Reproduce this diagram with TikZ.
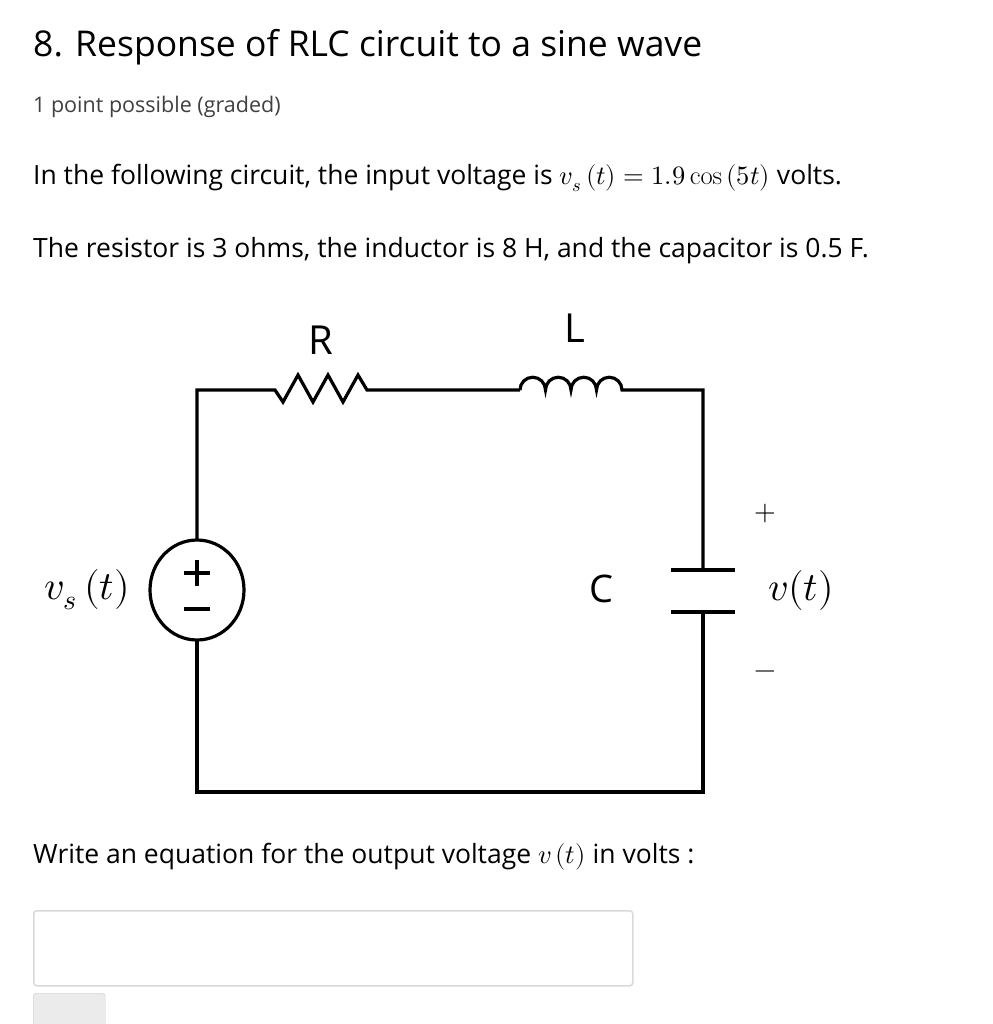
\documentclass[tikz,border=0pt]{standalone}
\usepackage{fontspec}
\setmainfont{Open Sans}
\usepackage{unicode-math}
\setmathfont{Latin Modern Math}
\setmathrm{Latin Modern Roman}
\usetikzlibrary{shapes.geometric}
\begin{document}
\begin{tikzpicture}[x=1pt,y=-1pt,
  wire/.style={line width=3.2pt,line join=miter},
  txt/.style={anchor=base west,inner sep=0pt,font=\fontsize{26.5}{30}\selectfont},
  lab/.style={inner sep=0pt,font=\fontsize{40}{44}\selectfont}]
\useasboundingbox[fill=white] (0,0) rectangle (992,1024);
\node[txt,anchor=base west,font=\fontsize{35.5}{40}\selectfont] (title) at (33,57) {8. Response of RLC circuit to a sine wave};
\node[txt,text=black!75,font=\fontsize{21.5}{24}\selectfont] (pts) at (33,113) {1 point possible (graded)};
\node[txt] (q1) at (33,185) {In the following circuit, the input voltage is $v_s\,(t) = 1.9\,\mathrm{cos}\,(5t)$ volts.};
\node[txt] (q2) at (33,258) {The resistor is 3 ohms, the inductor is 8 H, and the capacitor is 0.5 F.};
% circuit
\coordinate (tl) at (197,390); \coordinate (tr) at (703,390);
\coordinate (bl) at (197,792); \coordinate (br) at (703,792);
\coordinate (r1) at (275,390); \coordinate (r2) at (367,390);
\coordinate (l1) at (520,390); \coordinate (l2) at (622,390);
\draw[wire] (197,540) -- (tl) -- (r1) -- (283,402) -- (298,375) -- (313,402) -- (328,375) -- (343,402) -- (358,375) -- (r2) -- (l1);
\draw[wire] (l1) arc[start angle=180,end angle=360,radius=12.75]
  arc[start angle=180,end angle=360,radius=12.75]
  arc[start angle=180,end angle=360,radius=12.75]
  arc[start angle=180,end angle=360,radius=12.75] -- (tr) -- (703,570);
\draw[wire] (703,612) -- (br) -- (bl) -- (197,640);
\draw[wire] (671,570) -- (735,570);
\draw[wire] (671,612) -- (735,612);
\node[draw,line width=3.2pt,ellipse,minimum width=94pt,minimum height=100pt,inner sep=0pt] (src) at (197,590) {};
\draw[line width=3.5pt] (184,573) -- (210,573) (197,560) -- (197,586);
\draw[line width=3.5pt] (184,609) -- (210,609);
\node[lab,font=\fontsize{40}{44}\selectfont] (R) at (321,340) {R};
\node[lab,font=\fontsize{40}{44}\selectfont] (L) at (575,328) {L};
\node[lab,font=\fontsize{38}{42}\selectfont] (C) at (601,589) {C};
\node[lab] (vs) at (87,590) {$v_s\,(t)$};
\node[lab] (vt) at (801,590) {$v(t)$};
\node[lab,font=\fontsize{28}{32}\selectfont] (pl) at (765,513) {$+$};
\node[lab,font=\fontsize{28}{32}\selectfont] (mi) at (765,675) {$-$};
\node[txt] (q3) at (33,863) {Write an equation for the output voltage $v\,(t)$ in volts :};
\node[draw=black!15,line width=1.5pt,rounded corners=3pt,minimum width=599pt,minimum height=75pt,anchor=north west] (box) at (33,910) {};
\node[draw=black!20,fill=black!8,rounded corners=3pt,minimum width=72pt,minimum height=40pt,anchor=north west] (btn) at (33,993) {};
\end{tikzpicture}
\end{document}
